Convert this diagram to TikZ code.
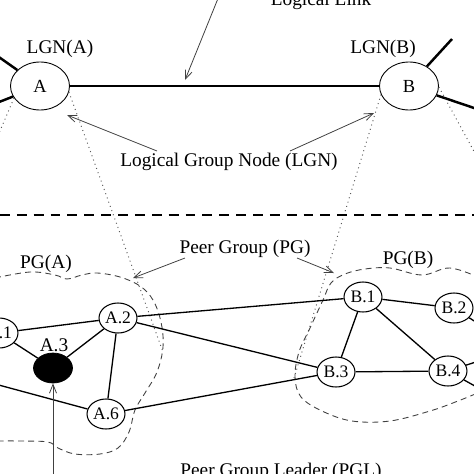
\documentclass[tikz,border=0pt]{standalone}
\usepackage{fontspec}
\setmainfont{Liberation Serif}
\usetikzlibrary{shapes.geometric,arrows.meta}
\begin{document}
\begin{tikzpicture}[x=0.02cm,y=-0.02cm,
  lgn/.style={ellipse,draw,line width=0.5pt,minimum width=1.18cm,minimum height=0.96cm,inner sep=0pt,font=\fontsize{10.5}{12}\selectfont},
  pn/.style={ellipse,draw,line width=0.6pt,minimum width=0.76cm,minimum height=0.6cm,inner sep=0pt,fill=white,font=\fontsize{10}{12}\selectfont},
  lbl/.style={font=\fontsize{11}{13}\selectfont,inner sep=0pt,anchor=base},
  thickl/.style={line width=1.4pt},
  edgel/.style={line width=0.75pt},
  arr/.style={-{Straight Barb[length=5pt,width=4pt]},line width=0.45pt,draw=black!75},
  dotl/.style={dotted,line width=0.55pt,draw=black!65},
  pgline/.style={dash pattern=on 3.4pt off 2.4pt,line width=0.5pt,draw=black!75},
  sepline/.style={dash pattern=on 5.6pt off 4pt,line width=0.9pt}
]
\useasboundingbox (0,0) rectangle (474,474);
\clip (0,0) rectangle (474,474);

% ---------- upper level ----------
\node[lgn] (A) at (40,86) {A};
\node[lgn] (B) at (409,86) {B};
\node[lbl] (lgnA) at (60,53) {LGN(A)};
\node[lbl] (lgnB) at (383,53) {LGN(B)};
\node[lbl] (ll) at (321,5) {Logical Link};
\node[lbl] (lgnlbl) at (229,166) {Logical Group Node (LGN)};

\draw[thickl] (A) -- (B);
\coordinate (Aul) at (-4,55);
\coordinate (All) at (-6,104);
\coordinate (Bur) at (452,39);
\coordinate (Blr) at (480,110);
\draw[thickl] (A) -- (Aul);
\draw[thickl] (A) -- (All);
\draw[thickl] (B) -- (Bur);
\draw[thickl] (B) -- (Blr);

% Logical link arrow
\coordinate (llS) at (219,-4);
\coordinate (llT) at (185,80);
\draw[arr] (llS) -- (llT);

% LGN arrows
\coordinate (lgS1) at (157,151);
\coordinate (lgT1) at (67,115);
\coordinate (lgS2) at (290,151);
\coordinate (lgT2) at (374,113);
\draw[arr] (lgS1) -- (lgT1);
\draw[arr] (lgS2) -- (lgT2);

% dotted projection lines
\coordinate (dA1) at (-4,140);
\coordinate (dA2) at (163,352);
\coordinate (dB1) at (294,378);
\coordinate (dB2) at (476,155);
\draw[dotl] (A.205) -- (dA1);
\draw[dotl] (A.-12) -- (dA2);
\draw[dotl] (B.197) -- (dB1);
\draw[dotl] (B.-2) -- (dB2);

% separator
\coordinate (sepL) at (0,215);
\coordinate (sepR) at (474,215);
\draw[sepline] (sepL) -- (sepR);

% ---------- lower level ----------
\node[lbl] (pglbl) at (245,253) {Peer Group (PG)};
\node[lbl] (pgA) at (46,268) {PG(A)};
\node[lbl] (pgB) at (408,264) {PG(B)};
\node[lbl] (pgl) at (281,476) {Peer Group Leader (PGL)};

\coordinate (pgS1) at (185,258);
\coordinate (pgT1) at (133,278);
\coordinate (pgS2) at (297,258);
\coordinate (pgT2) at (334,273);
\draw[arr] (pgS1) -- (pgT1);
\draw[arr] (pgS2) -- (pgT2);

% peer group clouds
\draw[pgline] plot[smooth,tension=0.6] coordinates {(-5,278) (30,272) (55,275) (67,279) (82,275) (97,273) (120,277) (140,286) (153,300) (161,322) (163,347) (157,372) (145,393) (135,410) (129,432) (118,448) (100,454) (75,454) (58,448) (48,442) (20,441) (-5,441)};
\draw[pgline] plot[smooth,tension=0.6] coordinates {(480,278) (450,268) (422,275) (390,268) (365,269) (345,274) (331,283) (323,300) (310,328) (299,352) (295,377) (301,397) (322,411) (352,421) (390,421) (430,411) (458,401) (480,392)};

% peer group nodes
\node[pn] (A1) at (-1,333) {A.1};
\node[pn] (A2) at (118,318) {A.2};
\node[ellipse,fill=black,draw=black,minimum width=0.78cm,minimum height=0.6cm,inner sep=0pt] (A3) at (53,368) {};
\node[lbl] (A3l) at (54,351) {A.3};
\node[pn] (A6) at (106,414) {A.6};
\node[pn] (B1) at (363,297) {B.1};
\node[pn] (B2) at (454,308) {B.2};
\node[pn] (B3) at (336,372) {B.3};
\node[pn] (B4) at (448,371) {B.4};

\draw[edgel] (A1) -- (A2);
\draw[edgel] (A1) -- (A3);
\draw[edgel] (A3) -- (A2);
\draw[edgel] (A2) -- (A6);
\draw[edgel] (A2) -- (B1);
\draw[edgel] (A2) -- (B3);
\draw[edgel] (A6) -- (B3);
\coordinate (A6l) at (-5,384);
\draw[edgel] (A6) -- (A6l);
\draw[edgel] (B1) -- (B2);
\draw[edgel] (B1) -- (B3);
\draw[edgel] (B1) -- (B4);
\draw[edgel] (B3) -- (B4);
\coordinate (B2r) at (482,326);
\coordinate (B4ru) at (482,360);
\coordinate (B4rl) at (482,390);
\draw[edgel] (B2) -- (B2r);
\draw[edgel] (B4) -- (B4ru);
\draw[edgel] (B4) -- (B4rl);

% PGL arrow
\coordinate (pglS) at (53,480);
\draw[arr] (pglS) -- (A3);
\end{tikzpicture}
\end{document}
